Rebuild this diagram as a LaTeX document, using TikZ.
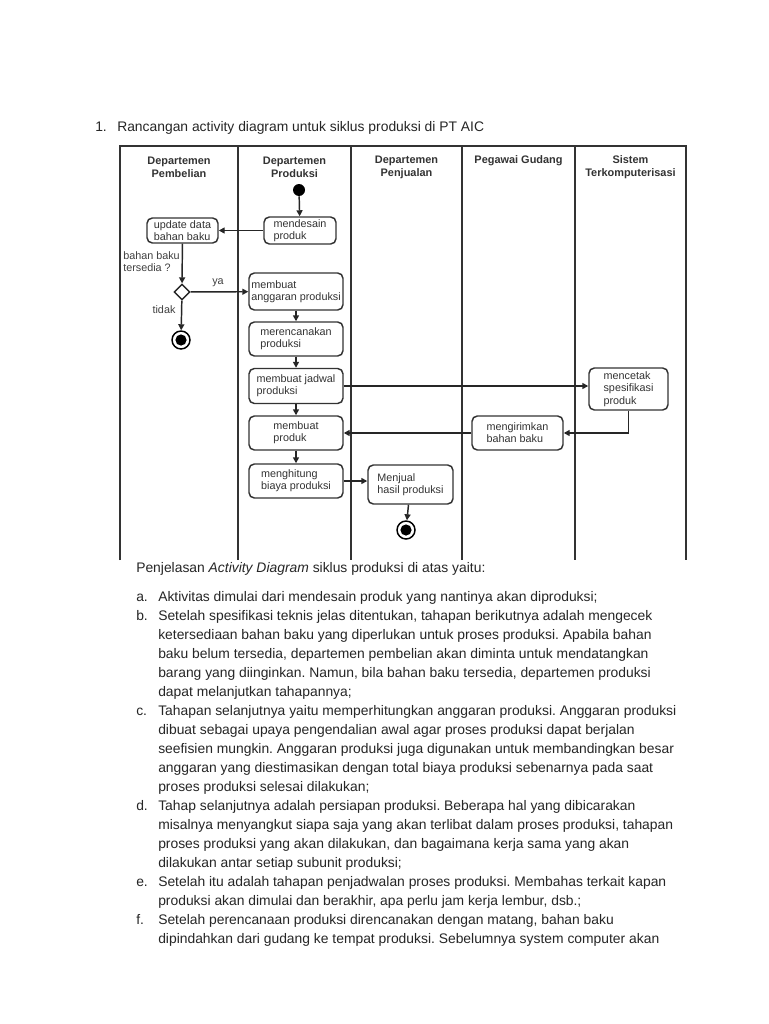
\documentclass[tikz,border=0pt]{standalone}
\usepackage{fontspec}
\setmainfont{Liberation Sans}
\usetikzlibrary{arrows.meta,shapes.geometric}
\frenchspacing
\begin{document}
\begin{tikzpicture}[x=0.75pt,y=-0.75pt,
  lane/.style={draw=black!80,line width=1.3pt},
  act/.style={draw=black!80,line width=1.1pt,rounded corners=4pt,align=left,
    font=\fontsize{8.1}{9.2}\selectfont,text=black!80,inner sep=0pt},
  hdr/.style={font=\bfseries\fontsize{8.2}{9.8}\selectfont,text=black!80,align=center,inner sep=0pt},
  lbl/.style={font=\fontsize{8.1}{9.2}\selectfont,text=black!75,align=left,inner sep=0pt},
  flow/.style={draw=black!85,line width=1.1pt,-{Triangle[length=4.5pt,width=4.5pt]}},
  body/.style={anchor=base west,inner sep=0pt,font=\fontsize{10.4}{12}\selectfont,text=black!85},
  startn/.style={circle,fill=black,inner sep=0pt,minimum size=9pt},
  endn/.style={circle,draw=black,line width=1.1pt,inner sep=0pt,minimum size=13.5pt,
    path picture={\fill[black] (path picture bounding box.center) circle (4.2pt);}},
  dec/.style={diamond,draw=black!85,line width=1.1pt,fill=white,inner sep=0pt,minimum size=12pt}
]
\useasboundingbox[fill=white] (0,0) rectangle (768,1024);

% title
\node[body] (n1) at (95,131.5) {1.};
\node[body] (title) at (117,131.5) {Rancangan activity diagram untuk siklus produksi di PT AIC};

% swimlanes
\draw[lane] (120,560) -- (120,146) -- (686,146) -- (686,560);
\draw[lane] (238,146) -- (238,560);
\draw[lane] (351,146) -- (351,560);
\draw[lane] (462,146) -- (462,560);
\draw[lane] (575,146) -- (575,560);

\node[hdr] (h1) at (179,167.5) {Departemen\\Pembelian};
\node[hdr] (h2) at (294.5,167.5) {Departemen\\Produksi};
\node[hdr] (h3) at (406.5,167.5) {Departemen\\Penjualan};
\node[hdr] (h4) at (518.5,161) {Pegawai Gudang};
\node[hdr] (h5) at (630.5,167.5) {Sistem\\Terkomputerisasi};

% nodes
\node[startn] (start) at (299,190) {};
\node[act,minimum width=54pt,minimum height=20.25pt] (des) at (300,230.5) {mendesain\\produk};
\node[act,minimum width=53.25pt,minimum height=18.75pt] (upd) at (182.5,230.5) {update data\\bahan baku};
\node[dec] (dia) at (182,292) {};
\node[endn] (end1) at (181,340) {};
\node[act,minimum width=70.5pt,minimum height=27.75pt] (ang) at (296,291.5) {membuat\\anggaran produksi};
\node[act,minimum width=70.5pt,minimum height=25.5pt] (ren) at (296,339) {merencanakan\\produksi};
\node[act,minimum width=70.5pt,minimum height=26.25pt] (jad) at (296,386) {membuat jadwal\\produksi};
\node[act,minimum width=70.5pt,minimum height=25.5pt] (pro) at (296,433) {membuat\\produk};
\node[act,minimum width=70.5pt,minimum height=25.5pt] (hit) at (296,481) {menghitung\\biaya produksi};
\node[act,minimum width=63.75pt,minimum height=29.25pt] (jua) at (410.5,484.5) {Menjual\\hasil produksi};
\node[endn] (end2) at (406,530) {};
\node[act,minimum width=59.25pt,minimum height=31.5pt] (cet) at (628.5,389) {mencetak\\spesifikasi\\produk};
\node[act,minimum width=68.25pt,minimum height=25.5pt] (kir) at (517.5,433) {mengirimkan\\bahan baku};

\node[lbl,anchor=west] (q) at (123,261.5) {bahan baku\\tersedia ?};
\node[lbl] (ya) at (218,283) {ya};
\node[lbl] (tidak) at (164,310) {tidak};

% connectors
\draw[flow] (start) -- (des);
\draw[flow] (des) -- (upd);
\draw[flow] (upd) -- (dia);
\draw[flow] (dia) -- (ang);
\draw[flow] (dia) -- (end1);
\draw[flow] (ang) -- (ren);
\draw[flow] (ren) -- (jad);
\draw[flow] (jad) -- (pro);
\draw[flow] (pro) -- (hit);
\draw[flow] (jad.east) -- (jad.east -| cet.west);
\draw[flow] (cet.south) |- (kir.east);
\draw[flow] (kir) -- (pro);
\draw[flow] (hit.east) -- (hit.east -| jua.west);
\draw[flow] (jua) -- (end2);

% explanation text
\node[body] (p0) at (136,572.5) {Penjelasan \textit{Activity Diagram} siklus produksi di atas yaitu:};
\node[body] (la) at (136,601.5) {a.};
\node[body] (a1) at (158,601.5) {Aktivitas dimulai dari mendesain produk yang nantinya akan diproduksi;};
\node[body] (lb) at (136,620.5) {b.};
\node[body] (b1) at (158,620.5) {Setelah spesifikasi teknis jelas ditentukan, tahapan berikutnya adalah mengecek};
\node[body] (b2) at (158,639.5) {ketersediaan bahan baku yang diperlukan untuk proses produksi. Apabila bahan};
\node[body] (b3) at (158,658.5) {baku belum tersedia, departemen pembelian akan diminta untuk mendatangkan};
\node[body] (b4) at (158,677.5) {barang yang diinginkan. Namun, bila bahan baku tersedia, departemen produksi};
\node[body] (b5) at (158,696.5) {dapat melanjutkan tahapannya;};
\node[body] (lc) at (136,715.5) {c.};
\node[body] (c1) at (158,715.5) {Tahapan selanjutnya yaitu memperhitungkan anggaran produksi. Anggaran produksi};
\node[body] (c2) at (158,734.5) {dibuat sebagai upaya pengendalian awal agar proses produksi dapat berjalan};
\node[body] (c3) at (158,753.5) {seefisien mungkin. Anggaran produksi juga digunakan untuk membandingkan besar};
\node[body] (c4) at (158,772.5) {anggaran yang diestimasikan dengan total biaya produksi sebenarnya pada saat};
\node[body] (c5) at (158,791.5) {proses produksi selesai dilakukan;};
\node[body] (ld) at (136,810.5) {d.};
\node[body] (d1) at (158,810.5) {Tahap selanjutnya adalah persiapan produksi. Beberapa hal yang dibicarakan};
\node[body] (d2) at (158,829.5) {misalnya menyangkut siapa saja yang akan terlibat dalam proses produksi, tahapan};
\node[body] (d3) at (158,848.5) {proses produksi yang akan dilakukan, dan bagaimana kerja sama yang akan};
\node[body] (d4) at (158,867.5) {dilakukan antar setiap subunit produksi;};
\node[body] (le) at (136,886.5) {e.};
\node[body] (e1) at (158,886.5) {Setelah itu adalah tahapan penjadwalan proses produksi. Membahas terkait kapan};
\node[body] (e2) at (158,905.5) {produksi akan dimulai dan berakhir, apa perlu jam kerja lembur, dsb.;};
\node[body] (lf) at (136,924.5) {f.};
\node[body] (f1) at (158,924.5) {Setelah perencanaan produksi direncanakan dengan matang, bahan baku};
\node[body] (f2) at (158,943.5) {dipindahkan dari gudang ke tempat produksi. Sebelumnya system computer akan};
\end{tikzpicture}
\end{document}
